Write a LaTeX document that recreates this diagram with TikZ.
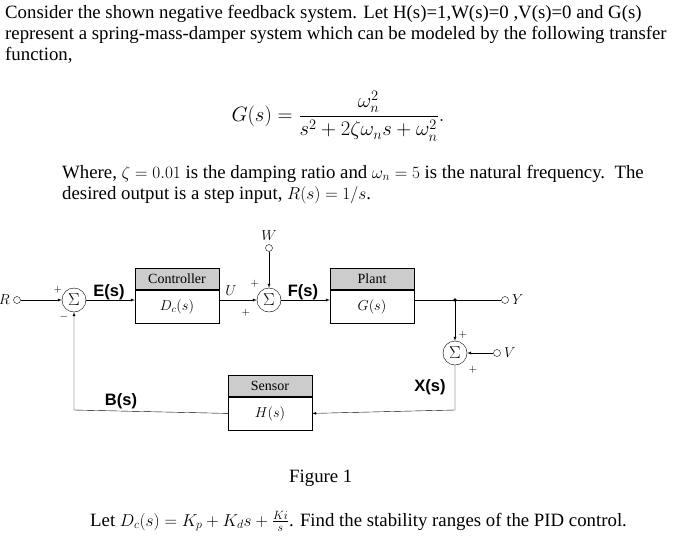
\documentclass[tikz,border=0pt]{standalone}
\usepackage{amsmath}
\usepackage{fontspec}
\setmainfont{Liberation Serif}
\newfontfamily\lsans{Liberation Sans}
\usetikzlibrary{arrows,shapes,positioning,calc}

\begin{document}
\begin{tikzpicture}[x=1pt,y=-1pt,>=latex,
	txt/.style={anchor=base west,inner sep=0pt,font=\fontsize{18.8}{22}\selectfont},
	sum/.style={circle,draw,minimum size=24pt,inner sep=0pt,font=\fontsize{16}{18}\selectfont},
	hdr/.style={draw,fill={rgb:black,1;white,4},minimum width=84pt,minimum height=21pt,inner sep=0pt,font=\fontsize{14}{16}\selectfont},
	body/.style={draw,minimum width=84pt,minimum height=33pt,inner sep=0pt,font=\fontsize{14}{16}\selectfont\itshape},
	term/.style={circle,draw,fill=white,minimum size=7pt,inner sep=0pt},
	sig/.style={font=\lsans\bfseries\fontsize{16.5}{18}\selectfont},
	lbl/.style={font=\fontsize{14}{16}\selectfont\itshape},
	pm/.style={font=\fontsize{11}{12}\selectfont,inner sep=1pt}]
	\useasboundingbox (0,0) rectangle (685,541);
	% text above the figure
	\node[txt] (l1) at (5,18) {Consider the shown negative feedback system. Let H(s)=1,W(s)=0 ,V(s)=0 and G(s)};
	\node[txt] (l2) at (5,39) {represent a spring-mass-damper system which can be modeled by the following transfer};
	\node[txt] (l3) at (5,60) {function,};
	\node[font=\fontsize{21}{24}\selectfont] (eq) at (338,116) {$G(s)=\dfrac{\omega_n^2}{s^2+2\zeta\omega_n s+\omega_n^2}.$};
	\node[txt] (l4) at (62,178) {Where, $\zeta=0.01$ is the damping ratio and $\omega_n=5$ is the natural frequency.\ \ The};
	\node[txt] (l5) at (62,199) {desired output is a step input, $R(s)=1/s$.};

	% block diagram
	\node[sum] (s1) at (74,300) {$\Sigma$};
	\node[hdr] (ch) at (177,279) {Controller};
	\node[body,below=0pt of ch] (cb) {$D_c(s)$};
	\node[sum] (s2) at (269,300) {$\Sigma$};
	\node[hdr] (ph) at (372,279) {Plant};
	\node[body,below=0pt of ph] (pb) {$G(s)$};
	\node[sum] (s3) at (455,353) {$\Sigma$};
	\node[hdr] (sh) at (270,386) {Sensor};
	\node[body,below=0pt of sh] (sb) {$H(s)$};

	\node[term] (r) at (17,300) {};
	\node[lbl,left=0pt of r] {$R$};
	\node[term] (w) at (269,248) {};
	\node[lbl,above=0pt of w] {$W$};
	\node[term] (y) at (505,300) {};
	\node[lbl,right=0pt of y] {$Y$};
	\node[term] (v) at (497,353) {};
	\node[lbl,right=0pt of v] {$V$};
	\coordinate (j) at (455,300);
	\coordinate (b) at (74,410);
	\coordinate (x) at (455,410);
	\fill (j) circle (1.8pt);

	\draw[->] (r) -- (s1);
	\draw[->] (s1) -- (s1 -| cb.west);
	\draw[->] (s1 -| cb.east) -- (s2);
	\draw[->] (w) -- (s2);
	\draw[->] (s2) -- (s2 -| pb.west);
	\draw (s2 -| pb.east) -- (y);
	\draw[->] (j) -- (s3);
	\draw[->] (v) -- (s3);
	\draw[->] (s3) -- (x) -- (sb.east);
	\draw[->] (sb.west) -- (b) -- (s1);

	\node[pm] at (58,290) {$+$};
	\node[pm] at (64,317) {$-$};
	\node[pm] at (255,284) {$+$};
	\node[pm] at (246,313) {$+$};
	\node[pm] at (463,335) {$+$};
	\node[pm] at (473,370) {$+$};
	\node[lbl] at (231,291) {$U$};
	\node[sig] at (109,292) {E(s)};
	\node[sig] at (303,292) {F(s)};
	\node[sig] at (430,387) {X(s)};
	\node[sig] at (121,401) {B(s)};

	% text below the figure
	\node[txt] (fig) at (289,482) {Figure 1};
	\node[txt] (l6) at (90,526) {Let $D_c(s)=K_p+K_d s+\frac{Ki}{s}$. Find the stability ranges of the PID control.};
\end{tikzpicture}
\end{document}
